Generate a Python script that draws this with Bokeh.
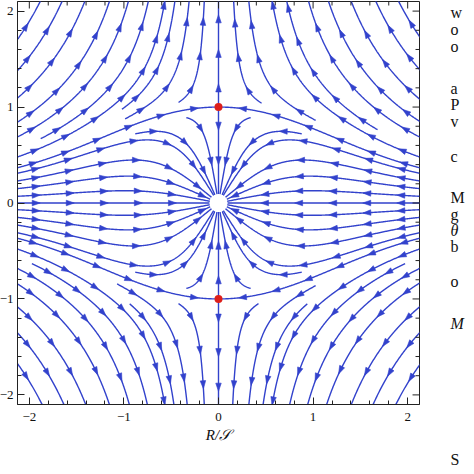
import math
import numpy as np
from bokeh.plotting import figure
from bokeh.layouts import row
from bokeh.models import FixedTicker, Range1d, ColumnDataSource
from bokeh.core.properties import value
from bokeh.embed import file_html
from bokeh.resources import INLINE

# ---------------- data ----------------
# vector field: v = (-x, TIDE*y) - TIDE * r / |r|^(1+POWER)   (saddles at (0, +-1), sink at origin)
TIDE = 2.0
POWER = 2.0
X_MIN, X_MAX = -2.125, 2.125
Y_MIN, Y_MAX = -2.1, 2.1
SINK_RADIUS = 0.095
saddle_x = [0.0, 0.0]
saddle_y = [1.0, -1.0]

# streamlines entering at the side edges
edge_seed_y = [0.48, 0.40, 0.31, 0.23, 0.15, 0.07, -0.07, -0.15, -0.23, -0.31, -0.40, -0.48]
# streamlines starting inside the frame and ending in the sink
inner_seed_x = [-0.34, 0.34, -0.34, 0.34, -0.88, 0.88, -0.88, 0.88]
inner_seed_y = [0.89, 0.89, -0.89, -0.89, 0.72, 0.72, -0.72, -0.72]
# where streamlines leave through the top and the bottom edge
top_exit_x = [-0.15, 0.16, -0.31, 0.32, -0.46, 0.48, -0.74, 0.72, -0.95, 0.95,
              -1.15, 1.16, -1.41, 1.40, -1.65, 1.66, -1.88, 1.90]
bottom_exit_x = [-0.15, 0.15, -0.33, 0.32, -0.47, 0.47, -0.75, 0.75, -0.94, 0.94,
                 -1.15, 1.14, -1.40, 1.40, -1.63, 1.63, -1.86, 1.87]

major_ticks = [-2, -1, 0, 1, 2]
minor_ticks = [round(-2.0 + 0.2 * i, 1) for i in range(21)]
tick_labels = {-2: "\u22122", -1: "\u22121", 0: "0", 1: "1", 2: "2"}
x_title = "R/\U0001D4AE"
side_text = ["w", "o", "o", "a", "P", "v", "c", "M", "g", "\u03b8", "b", "o", "M", "S"]
side_text_py = [12, 29, 46, 88, 104, 121, 156, 197, 214, 230, 246, 281, 323, 459]
side_text_style = ["normal"] * 9 + ["italic", "normal", "normal", "italic", "normal"]

LINE_COLOR = "#3242cc"
FRAME_COLOR = "#222222"
DSEP = 0.09

# ---------------- streamline integration ----------------
def field(x, y):
    r = math.hypot(x, y)
    g = TIDE / r ** (1 + POWER)
    return -x - g * x, TIDE * y - g * y


def unit(x, y, sgn):
    u, v = field(x, y)
    n = math.hypot(u, v)
    if n < 1e-12:
        return None
    return sgn * u / n, sgn * v / n


CELL = 0.1
grid = {}


def register(xs, ys, lid):
    for k in range(0, len(xs), 3):
        key = (math.floor(xs[k] / CELL), math.floor(ys[k] / CELL))
        grid.setdefault(key, []).append((xs[k], ys[k], lid))


def too_close(x, y, lid):
    cx, cy = math.floor(x / CELL), math.floor(y / CELL)
    for i in (cx - 1, cx, cx + 1):
        for j in (cy - 1, cy, cy + 1):
            for (qx, qy, l) in grid.get((i, j), ()):
                if l != lid and (qx - x) ** 2 + (qy - y) ** 2 < DSEP * DSEP:
                    return True
    return False


def trace(x0, y0, sgn=1, lid=None, h=0.006, max_steps=4000):
    xs, ys = [x0], [y0]
    x, y = x0, y0
    for _ in range(max_steps):
        k1 = unit(x, y, sgn)
        if k1 is None:
            break
        k2 = unit(x + 0.5 * h * k1[0], y + 0.5 * h * k1[1], sgn)
        if k2 is None:
            break
        k3 = unit(x + 0.5 * h * k2[0], y + 0.5 * h * k2[1], sgn)
        if k3 is None:
            break
        k4 = unit(x + h * k3[0], y + h * k3[1], sgn)
        if k4 is None:
            break
        x += h * (k1[0] + 2 * k2[0] + 2 * k3[0] + k4[0]) / 6
        y += h * (k1[1] + 2 * k2[1] + 2 * k3[1] + k4[1]) / 6
        if lid is not None and too_close(x, y, lid):
            break
        xs.append(x)
        ys.append(y)
        if math.hypot(x, y) < SINK_RADIUS:
            break
        if x < X_MIN - 0.02 or x > X_MAX + 0.02 or y < Y_MIN - 0.02 or y > Y_MAX + 0.02:
            break
    if sgn < 0:
        xs, ys = xs[::-1], ys[::-1]
    return xs, ys


lines = []


def keep(line):
    lines.append(line)
    register(line[0], line[1], len(lines) - 1)


def ends_in_sink(line):
    return math.hypot(line[0][-1], line[1][-1]) < SINK_RADIUS + 0.01


# coordinate axes and the separatrices through the saddles
keep(trace(X_MIN, 0.0))
keep(trace(X_MAX, 0.0))
for sx, sy in zip(saddle_x, saddle_y):
    keep(trace(sx, sy * 1.002))
    keep(trace(sx, sy * 0.998))
    keep(trace(sx - 0.002, sy, sgn=-1))
    keep(trace(sx + 0.002, sy, sgn=-1))
for xx, yy in zip(inner_seed_x, inner_seed_y):
    keep(trace(xx, yy))
for yy in edge_seed_y:
    for x0 in (X_MIN, X_MAX):
        ln = trace(x0, yy)
        if not ends_in_sink(ln):
            ln = trace(x0, yy, lid=len(lines))
        if len(ln[0]) > 25:
            keep(ln)
# outgoing streamlines, followed back from the edge until they crowd other lines
for xt, xb in zip(top_exit_x, bottom_exit_x):
    for x0, y0 in ((xt, Y_MAX + 0.01), (xb, Y_MIN - 0.01)):
        ln = trace(x0, y0, sgn=-1, lid=len(lines))
        if len(ln[0]) > 25:
            keep(ln)

# arrow heads along each line
ARROW_GAP = 0.36
ARROW_LEN = 0.085
ARROW_W = 0.058
ax_list, ay_list = [], []
for xs, ys in lines:
    xa, ya = np.array(xs), np.array(ys)
    seg = np.hypot(np.diff(xa), np.diff(ya))
    if len(seg) == 0:
        continue
    cum = np.concatenate([[0], np.cumsum(seg)])
    total = cum[-1]
    s = ARROW_GAP * 0.55
    while s < total - 0.05:
        i = int(np.searchsorted(cum, s)) - 1
        i = max(0, min(i, len(seg) - 1))
        t = (s - cum[i]) / seg[i] if seg[i] > 0 else 0
        px = xa[i] + t * (xa[i + 1] - xa[i])
        py = ya[i] + t * (ya[i + 1] - ya[i])
        dx, dy = (xa[i + 1] - xa[i]) / seg[i], (ya[i + 1] - ya[i]) / seg[i]
        nx, ny = -dy, dx
        if X_MIN < px < X_MAX and Y_MIN < py < Y_MAX:
            ax_list.append([px + dx * ARROW_LEN * 0.5,
                            px - dx * ARROW_LEN * 0.5 + nx * ARROW_W * 0.5,
                            px - dx * ARROW_LEN * 0.5 - nx * ARROW_W * 0.5])
            ay_list.append([py + dy * ARROW_LEN * 0.5,
                            py - dy * ARROW_LEN * 0.5 + ny * ARROW_W * 0.5,
                            py - dy * ARROW_LEN * 0.5 - ny * ARROW_W * 0.5])
        s += ARROW_GAP

# ---------------- figure ----------------
LEFT, RIGHT, TOP, BOTTOM = 19, 20, 1, 70
W, H = LEFT + 404 + RIGHT, 474
p = figure(width=W, height=H, x_range=Range1d(X_MIN, X_MAX), y_range=Range1d(Y_MIN, Y_MAX),
           output_backend="svg", toolbar_location=None,
           min_border_left=LEFT, min_border_right=RIGHT, min_border_top=TOP, min_border_bottom=BOTTOM,
           styles={"margin-left": "-4px"})
p.frame_align = False
p.xgrid.visible = False
p.ygrid.visible = False
p.outline_line_color = FRAME_COLOR
p.outline_line_width = 1
p.background_fill_color = "white"

p.multi_line([l[0] for l in lines], [l[1] for l in lines], line_color=LINE_COLOR, line_width=1.4)
p.patches(ax_list, ay_list, fill_color=LINE_COLOR, line_color=LINE_COLOR, line_width=0.6)
p.scatter([0], [0], size=2 * SINK_RADIUS * 96, fill_color="white", line_color=None)
p.scatter(saddle_x, saddle_y, size=8, fill_color="#dd1f1a", line_color=None)

# inward ticks on the right and top edges of the frame
px_x = (X_MAX - X_MIN) / (W - LEFT - RIGHT)
px_y = (Y_MAX - Y_MIN) / (H - TOP - BOTTOM)
tick_len = [7 if t in major_ticks else 4 for t in minor_ticks]
p.segment(x0=[X_MAX] * len(minor_ticks), y0=minor_ticks,
          x1=[X_MAX - L * px_x for L in tick_len], y1=minor_ticks, line_color=FRAME_COLOR, line_width=1)
p.segment(x0=minor_ticks, y0=[Y_MAX] * len(minor_ticks),
          x1=minor_ticks, y1=[Y_MAX - L * px_y for L in tick_len], line_color=FRAME_COLOR, line_width=1)

ticker = FixedTicker(ticks=major_ticks, minor_ticks=minor_ticks)
for ax in (p.xaxis[0], p.yaxis[0]):
    ax.ticker = ticker
    ax.axis_line_color = FRAME_COLOR
    ax.major_tick_line_color = FRAME_COLOR
    ax.minor_tick_line_color = FRAME_COLOR
    ax.major_tick_in = 7
    ax.major_tick_out = 0
    ax.minor_tick_in = 4
    ax.minor_tick_out = 0
    ax.major_label_overrides = tick_labels
    ax.major_label_text_font = "Liberation Serif"
    ax.major_label_text_font_size = "13px"
    ax.major_label_text_color = "#111111"
p.xaxis[0].major_label_standoff = 8
p.yaxis[0].major_label_standoff = 4
p.xaxis[0].axis_label = x_title
p.xaxis[0].axis_label_text_font = "Liberation Serif"
p.xaxis[0].axis_label_text_font_style = "italic"
p.xaxis[0].axis_label_text_font_size = "15px"
p.xaxis[0].axis_label_text_color = "#111111"
p.xaxis[0].axis_label_standoff = 3

# fragments of the neighbouring page text, in a narrow strip to the right
SIDE_W = 474 - (W - 4)
p2 = figure(width=SIDE_W, height=H, x_range=Range1d(0, SIDE_W), y_range=Range1d(H, 0),
            output_backend="svg", toolbar_location=None, min_border=0,
            x_axis_location=None, y_axis_location=None)
p2.frame_align = False
p2.outline_line_color = None
p2.xgrid.visible = False
p2.ygrid.visible = False
src = ColumnDataSource(dict(x=[11] * len(side_text), y=side_text_py, text=side_text, style=side_text_style))
p2.text(x="x", y="y", text="text", source=src, text_font=value("Liberation Serif"),
        text_font_size=value("16px"), text_font_style="style", text_baseline="middle",
        text_align="left", text_color="#111111")

layout = row(p, p2)
open("out.html", "w").write(file_html(layout, INLINE))
